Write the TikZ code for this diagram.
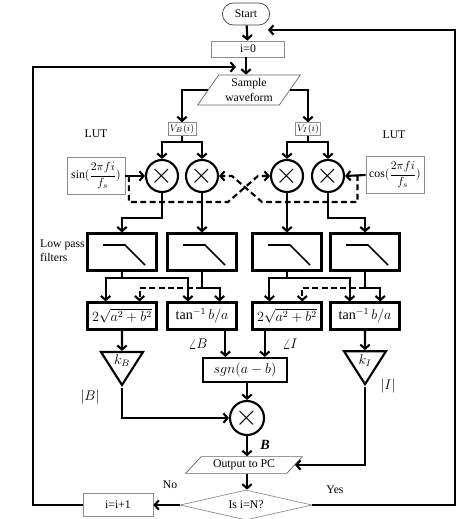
\documentclass[tikz,border=0pt]{standalone}
\usepackage{fontspec}
\setmainfont{Liberation Serif}
\usetikzlibrary{shapes.geometric, shapes.misc, arrows.meta}
\tikzstyle{startstop} = [
    rounded rectangle,
    minimum width=1.65cm,
    minimum height=0.66cm,
    draw=black!75,
    line width=0.6pt
]
\tikzstyle{graybox} = [
    rectangle,
    draw=black!45,
    line width=0.6pt,
    inner sep=1.5pt
]
\tikzstyle{process} = [
    rectangle,
    minimum width=2.07cm,
    minimum height=0.81cm,
    font=\large,
    draw=black,
    line width=1.8pt
]
\tikzstyle{filter} = [
    process,
    minimum height=1.11cm
]
\tikzstyle{mult} = [
    circle,
    minimum size=0.96cm,
    inner sep=0pt,
    draw=black,
    line width=1.8pt
]
\tikzstyle{gain} = [
    isosceles triangle,
    shape border rotate=-90,
    isosceles triangle stretches,
    minimum width=1.26cm,
    minimum height=0.99cm,
    inner sep=0pt,
    font=\large,
    draw=black,
    line width=1.8pt
]
\tikzstyle{inputoutput} = [
    trapezium,
    trapezium left angle=55,
    trapezium right angle=125,
    inner sep=1pt,
    draw=black!60,
    line width=0.6pt,
    align=center
]
\tikzstyle{decision} = [
    diamond,
    aspect=4.4,
    minimum width=3.96cm,
    minimum height=0.9cm,
    inner sep=0pt,
    draw=black!45,
    line width=0.6pt
]
\tikzstyle{wire} = [line width=1.8pt]
\tikzstyle{arrow} = [wire,-{Straight Barb[length=3.5pt,width=8pt]}]
\tikzstyle{dasharrow} = [arrow,dash pattern=on 5pt off 3pt]
\begin{document}
\begin{tikzpicture}[x=0.03cm, y=-0.03cm]
\useasboundingbox (0,0) rectangle (474,519);

\node (start) [startstop] at (246,14) {Start};
\node (init) [graybox, minimum width=2.19cm, minimum height=0.48cm] at (248,49) {i=0};
\node (sample) [inputoutput, minimum width=2.76cm, minimum height=0.9cm] at (249,90) {Sample\\waveform};

\node (vb) [graybox] at (182,129) {\footnotesize$V_B(i)$};
\node (vi) [graybox] at (308,129) {\footnotesize$V_I(i)$};
\node (lutl) at (96,134) {LUT};
\node (lutr) at (394,135) {LUT};
\node (sin) [graybox, minimum width=1.74cm, minimum height=1.11cm] at (96,176)
{$\displaystyle\sin(\frac{2\pi fi}{f_s})$};
\node (cos) [graybox, minimum width=1.74cm, minimum height=1.11cm] at (395,175)
{$\displaystyle\cos(\frac{2\pi fi}{f_s})$};

\node (m1) [mult] at (162,176) {\Huge$\times$};
\node (m2) [mult] at (202,176) {\Huge$\times$};
\node (m3) [mult] at (287,176) {\Huge$\times$};
\node (m4) [mult] at (328,176) {\Huge$\times$};

\node (lpf) [align=left, anchor=west] at (36,251) {Low pass\\filters};
\node (f1) [filter] at (122,252) {};
\node (f2) [filter] at (202,252) {};
\node (f3) [filter] at (287,252) {};
\node (f4) [filter] at (365,252) {};
\draw [line width=1.3pt] ([shift={(-19,-7)}]f1.center) -- ++(22,0) -- ++(20,20);
\draw [line width=1.3pt] ([shift={(-19,-7)}]f2.center) -- ++(22,0) -- ++(20,20);
\draw [line width=1.3pt] ([shift={(-19,-7)}]f3.center) -- ++(22,0) -- ++(20,20);
\draw [line width=1.3pt] ([shift={(-19,-7)}]f4.center) -- ++(22,0) -- ++(20,20);

\node (sq1) [process] at (122,316) {$2\sqrt{a^2+b^2}$};
\node (tn1) [process] at (202,316) {$\tan^{-1}b/a$};
\node (sq3) [process] at (287,316) {$2\sqrt{a^2+b^2}$};
\node (tn4) [process] at (365,316) {$\tan^{-1}b/a$};

\node (kb) [gain] at (122,361) {$k_B$};
\node (ki) [gain] at (365,361) {$k_I$};
\node (sgn) [process, minimum width=2.52cm, minimum height=0.72cm] at (245,370) {$sgn(a-b)$};
\node (m5) [mult, minimum size=1.02cm] at (247,418) {\Huge$\times$};

\node (angb) [font=\large] at (198,344) {$\angle B$};
\node (angi) [font=\large] at (290,344) {$\angle I$};
\node (absb) [font=\large] at (90,397) {$|B|$};
\node (absi) [font=\large] at (388,386) {$|I|$};
\node (blab) [font=\large] at (265,445) {\textbf{\textit{B}}};

\node (out) [inputoutput, trapezium left angle=47, trapezium right angle=133,
    minimum width=3.51cm, minimum height=0.48cm] at (244,465) {Output to PC};
\node (isn) [decision] at (246,505) {Is i=N?};
\node (inc) [graybox, minimum width=2.1cm, minimum height=0.69cm] at (118,505) {i=i+1};
\node (no) at (170,485) {No};
\node (yes) at (335,490) {Yes};

\coordinate (lin) at (236,67);
\coordinate (rin) at (268,30);

% Arrows
\draw [arrow] (start) -- (init);
\draw [arrow] (init.south -| start) -- (sample.north -| start);
\draw [arrow] (sample.west) -| (vb.north);
\draw [arrow] (sample.east) -| (vi.north);
\draw [wire] (vb.south) -- ++(0,6) coordinate (vbs);
\draw [arrow] (vbs) -| (m1.north);
\draw [arrow] (vbs) -| (m2.north);
\draw [wire] (vi.south) -- ++(0,6) coordinate (vis);
\draw [arrow] (vis) -| (m3.north);
\draw [arrow] (vis) -| (m4.north);
\draw [arrow] (sin.east) -- (m1.west);
\draw [arrow] (cos.west) -- (m4.east);
\draw [dasharrow] ([xshift=3]sin.east) |- (228,202) -- ++(30,-26) -- (m3.west);
\draw [dasharrow] ([xshift=-7]cos.west) |- (262,202) -- ++(-30,-26) -- (m2.east);

\draw [arrow] (m1.south) -- ++(0,25) -| (f1.north);
\draw [arrow] (m2) -- (f2);
\draw [arrow] (m3) -- (f3);
\draw [arrow] (m4.south) -- ++(0,25) -| (f4.north);

\draw [wire] (f1.south) -- ++(0,6) coordinate (f1s);
\draw [arrow] (f1s) -| ([xshift=-14]sq1.north);
\draw [arrow] (f1s) -| ([xshift=-12]tn1.north);
\draw [wire] (f2.south) -- ++(0,16) coordinate (f2s);
\draw [arrow] (f2s) -| ([xshift=15]tn1.north);
\draw [dasharrow] (f2s) -| ([xshift=15]sq1.north);
\draw [wire] (f3.south) -- ++(0,6) coordinate (f3s);
\draw [arrow] (f3s) -| ([xshift=-15]sq3.north);
\draw [arrow] (f3s) -| ([xshift=-13]tn4.north);
\draw [wire] (f4.south) -- ++(0,16) coordinate (f4s);
\draw [arrow] (f4s) -| ([xshift=13]tn4.north);
\draw [dasharrow] (f4s) -| ([xshift=13]sq3.north);

\draw [arrow] (sq1) -- (kb);
\draw [arrow] (tn4) -- (ki);
\draw [arrow] ([xshift=20]tn1.south) -- ([xshift=20]tn1.south |- sgn.north);
\draw [arrow] ([xshift=-19]sq3.south) -- ([xshift=-19]sq3.south |- sgn.north);
\draw [arrow] (kb.apex) |- (m5.west);
\draw [arrow] (sgn.south -| m5) -- (m5.north);
\draw [arrow] (m5.south) -- (out.north -| m5);
\draw [arrow] (ki.apex) |- (out.east);
\draw [arrow] (out.south -| m5) -- (isn.north -| m5);
\draw [arrow] (isn.west) -- (inc.east);
\draw [arrow] (inc.west) -- ++(-50,0) |- (lin);
\draw [arrow] (isn.east) -- ++(143,0) |- (rin);

\end{tikzpicture}
\end{document}
